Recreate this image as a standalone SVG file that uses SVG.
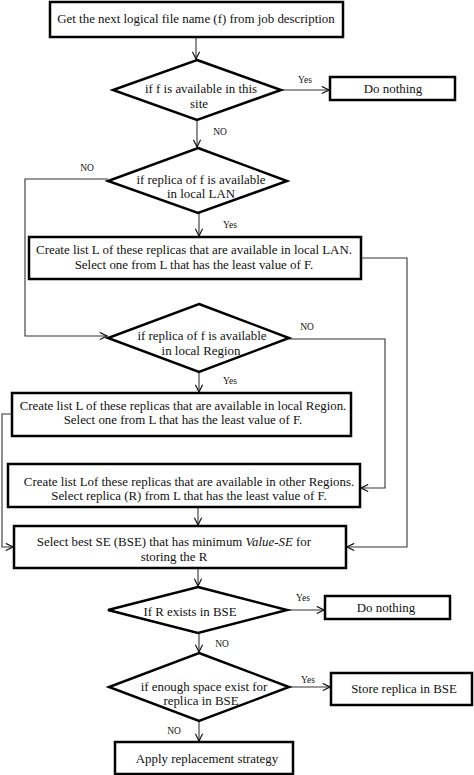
<svg xmlns="http://www.w3.org/2000/svg" width="474" height="775" viewBox="0 0 474 775">
<style>
.n{fill:#fff;stroke:#000;stroke-width:2.5}
.t{font-family:"Liberation Serif","Times New Roman",serif;font-size:12.9px;fill:#111;text-anchor:middle}
.l{font-family:"Liberation Serif","Times New Roman",serif;font-size:9.5px;fill:#111;text-anchor:middle}
.c{fill:none;stroke:#333;stroke-width:1.1}
</style>
<defs>
<marker id="a" viewBox="0 0 10 10" refX="9" refY="5" markerWidth="9" markerHeight="9" markerUnits="userSpaceOnUse" orient="auto">
<path d="M1,1 L9,5 L1,9" fill="none" stroke="#111" stroke-width="1.3"/>
</marker>
</defs>
<rect width="474" height="775" fill="#fff"/>
<g id="connectors">
<path class="c" d="M196,37 V59" marker-end="url(#a)"/>
<path class="c" d="M281,90 H329" marker-end="url(#a)"/>
<path class="c" d="M197,120 V147" marker-end="url(#a)"/>
<path class="c" d="M108,179 H25 V336 H107" marker-end="url(#a)"/>
<path class="c" d="M199,213 V236" marker-end="url(#a)"/>
<path class="c" d="M361,258 H407 V547 H347" marker-end="url(#a)"/>
<path class="c" d="M289,339 H385 V488 H361" marker-end="url(#a)"/>
<path class="c" d="M199,372 V392" marker-end="url(#a)"/>
<path class="c" d="M12,414 H2 V547 H13" marker-end="url(#a)"/>
<path class="c" d="M198,507 V525" marker-end="url(#a)"/>
<path class="c" d="M198,568 V586" marker-end="url(#a)"/>
<path class="c" d="M287,610 H324" marker-end="url(#a)"/>
<path class="c" d="M199,633 V652" marker-end="url(#a)"/>
<path class="c" d="M289,687 H330" marker-end="url(#a)"/>
<path class="c" d="M199,721 V741" marker-end="url(#a)"/>
<text class="l" x="305" y="83">Yes</text>
<text class="l" x="220" y="135">NO</text>
<text class="l" x="87" y="171">NO</text>
<text class="l" x="230" y="228">Yes</text>
<text class="l" x="307" y="330">NO</text>
<text class="l" x="230" y="384">Yes</text>
<text class="l" x="303" y="601">Yes</text>
<text class="l" x="222" y="647">NO</text>
<text class="l" x="308" y="683">Yes</text>
<text class="l" x="174" y="734">NO</text>
</g>
<g id="start">
<rect class="n" x="50" y="2" width="293" height="35"/>
<text class="t" x="196" y="23">Get the next logical file name (f) from job description</text>
</g>
<g id="d1">
<polygon class="n" points="197,60 281,90 197,120 113,90"/>
<text class="t" x="201" y="93">if f is available in this</text>
<text class="t" x="199" y="108">site</text>
</g>
<g id="nothing1">
<rect class="n" x="330" y="77" width="125" height="23"/>
<text class="t" x="393" y="93">Do nothing</text>
</g>
<g id="d2">
<polygon class="n" points="198,148 287,181 198,213 108,181"/>
<text class="t" x="201" y="184">if replica of f is available</text>
<text class="t" x="201" y="198">in local LAN</text>
</g>
<g id="lan">
<rect class="n" x="29" y="237" width="332" height="42"/>
<text class="t" x="194" y="254">Create list L of these replicas that are available in local LAN.</text>
<text class="t" x="194" y="269">Select one from L that has the least value of F.</text>
</g>
<g id="d3">
<polygon class="n" points="199,304 289,338 199,372 108,338"/>
<text class="t" x="202" y="340">if replica of f is available</text>
<text class="t" x="201" y="355">in local Region</text>
</g>
<g id="region">
<rect class="n" x="12" y="393" width="339" height="43"/>
<text class="t" x="183" y="410">Create list L of these replicas that are available in local Region.</text>
<text class="t" x="183" y="424">Select one from L that has the least value of F.</text>
</g>
<g id="other">
<rect class="n" x="8" y="464" width="352" height="43"/>
<text class="t" x="189" y="486">Create list Lof these replicas that are available in other Regions.</text>
<text class="t" x="189" y="500">Select replica (R) from L that has the least value of F.</text>
</g>
<g id="bse">
<rect class="n" x="14" y="526" width="332" height="42"/>
<text class="t" x="174" y="546">Select best SE (BSE) that has minimum <tspan font-style="italic">Value-SE</tspan> for</text>
<text class="t" x="174" y="561">storing the R</text>
</g>
<g id="d4">
<polygon class="n" points="198,587 287,610 198,633 108,610"/>
<text class="t" x="190" y="616">If R exists in BSE</text>
</g>
<g id="nothing2">
<rect class="n" x="325" y="596" width="125" height="23"/>
<text class="t" x="386" y="612">Do nothing</text>
</g>
<g id="d5">
<polygon class="n" points="199,653 289,687 199,721 109,687"/>
<text class="t" x="204" y="691">if enough space exist for</text>
<text class="t" x="201" y="705">replica in BSE</text>
</g>
<g id="store">
<rect class="n" x="331" y="673" width="141" height="32"/>
<text class="t" x="404" y="693">Store replica in BSE</text>
</g>
<g id="apply">
<rect class="n" x="115" y="742" width="178" height="32"/>
<text class="t" x="207" y="763">Apply replacement strategy</text>
</g>
</svg>
